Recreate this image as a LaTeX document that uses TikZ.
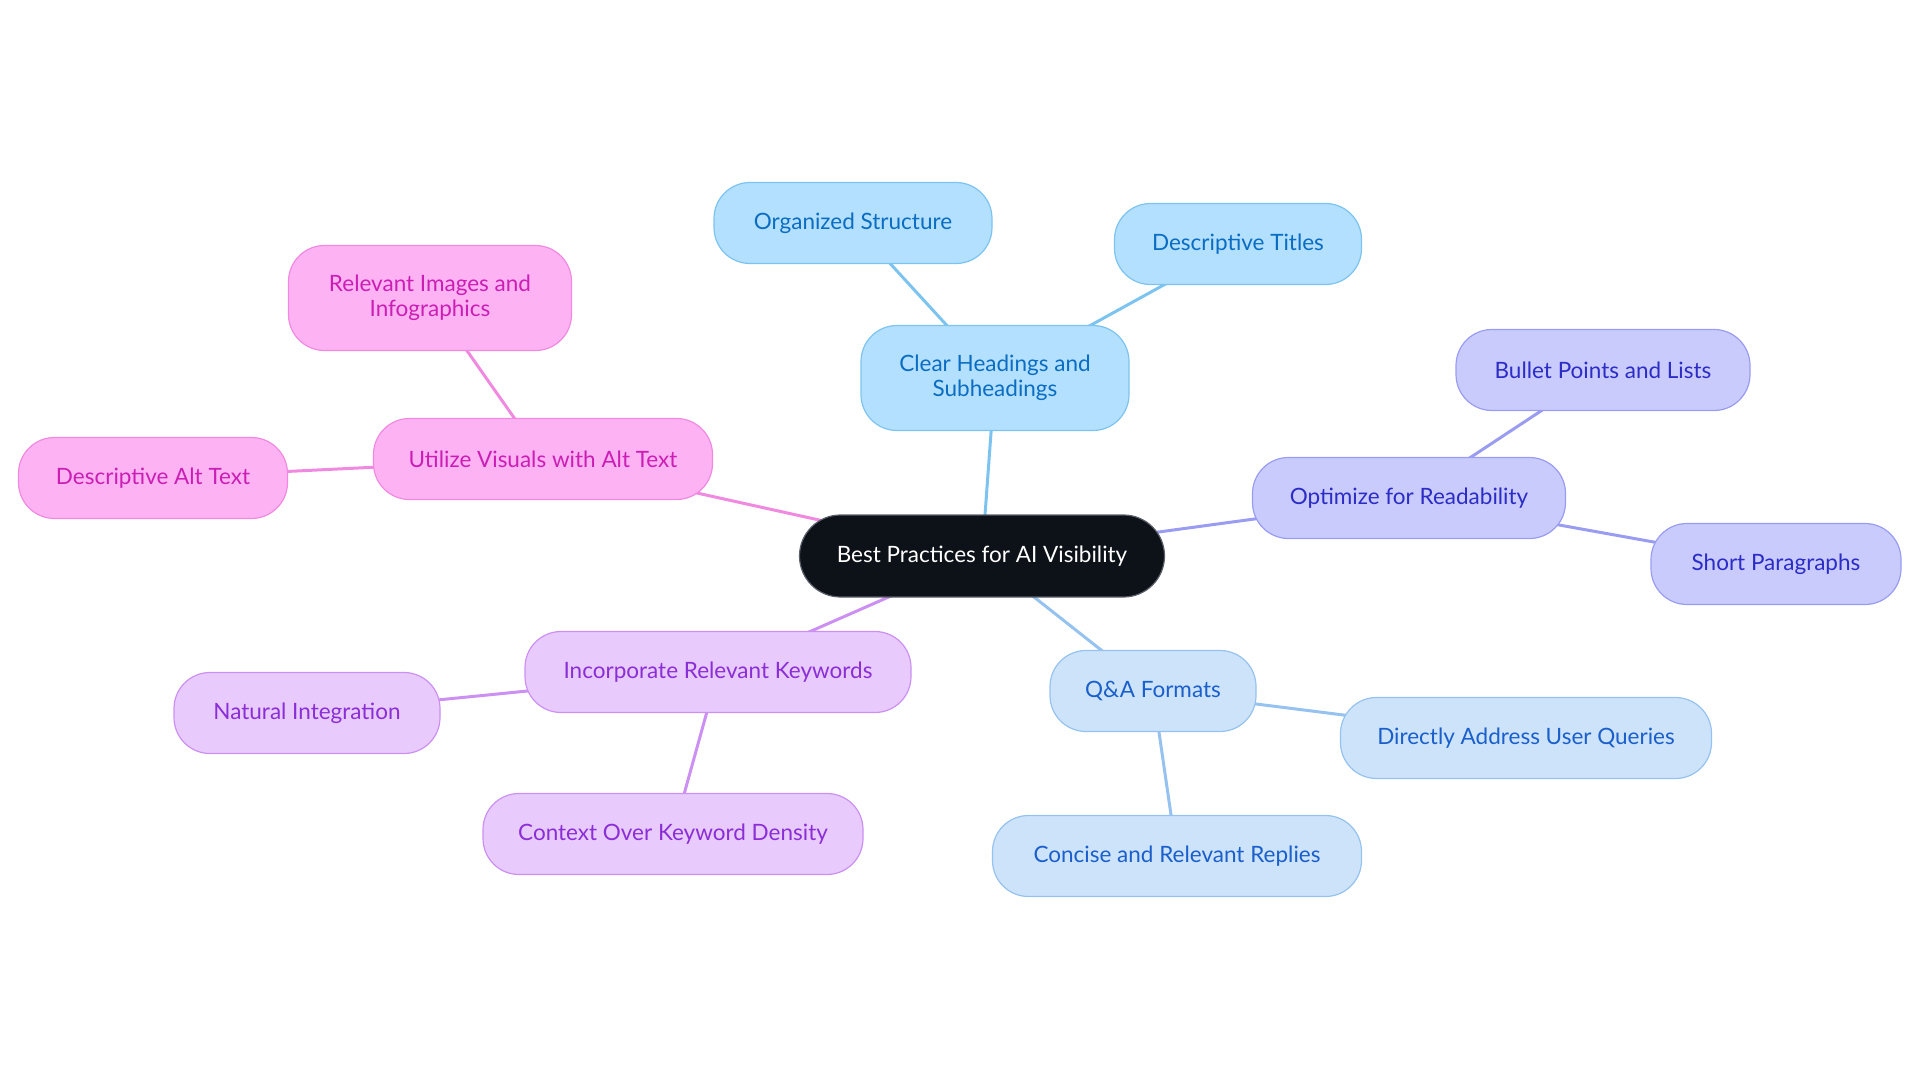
\documentclass[tikz,border=0pt]{standalone}
\usepackage{fontspec}
\setmainfont{Lato}
\usepackage{xcolor}
\usepackage{tikz}
\usetikzlibrary{backgrounds}
\definecolor{hubfill}{RGB}{13, 17, 24}
\definecolor{hubline}{RGB}{90, 95, 105}
\definecolor{bluefill}{RGB}{179, 224, 255}
\definecolor{blueline}{RGB}{125, 195, 240}
\definecolor{bluetext}{RGB}{11, 109, 194}
\definecolor{indigofill}{RGB}{201, 203, 252}
\definecolor{indigoline}{RGB}{154, 156, 242}
\definecolor{indigotext}{RGB}{44, 44, 198}
\definecolor{skyfill}{RGB}{205, 227, 250}
\definecolor{skyline}{RGB}{150, 194, 239}
\definecolor{skytext}{RGB}{26, 95, 203}
\definecolor{lilacfill}{RGB}{232, 202, 252}
\definecolor{lilacline}{RGB}{204, 144, 242}
\definecolor{lilactext}{RGB}{139, 46, 214}
\definecolor{pinkfill}{RGB}{253, 179, 243}
\definecolor{pinkline}{RGB}{240, 138, 224}
\definecolor{pinktext}{RGB}{203, 30, 181}

\begin{document}
\begin{tikzpicture}[x=1pt, y=-1pt,
    box/.style={rounded corners=36pt, line width=1.2pt, inner sep=0pt, align=center,
                minimum height=81pt, font=\fontsize{22.5}{24.5}\selectfont},
    hub/.style={box, fill=hubfill, draw=hubline, text=white, rounded corners=41pt},
    bluebox/.style={box, fill=bluefill, draw=blueline, text=bluetext},
    indigobox/.style={box, fill=indigofill, draw=indigoline, text=indigotext},
    skybox/.style={box, fill=skyfill, draw=skyline, text=skytext},
    lilacbox/.style={box, fill=lilacfill, draw=lilacline, text=lilactext},
    pinkbox/.style={box, fill=pinkfill, draw=pinkline, text=pinktext},
    link/.style={line width=3pt}]
    \useasboundingbox (0,0) rectangle (1920,1083);

    % Centre
    \node[hub, minimum width=365pt, minimum height=82pt] (hub) at (982,556) {Best Practices for AI Visibility};

    % Headings branch
    \node[bluebox, minimum width=268pt, minimum height=105pt] (headings) at (995,378) {Clear Headings and\\Subheadings};
    \node[bluebox, minimum width=278pt] (structure) at (853,223) {Organized Structure};
    \node[bluebox, minimum width=247pt] (titles) at (1238,244) {Descriptive Titles};

    % Readability branch
    \node[indigobox, minimum width=313pt] (readability) at (1409,498) {Optimize for Readability};
    \node[indigobox, minimum width=294pt] (bullets) at (1603,370) {Bullet Points and Lists};
    \node[indigobox, minimum width=250pt] (paragraphs) at (1776,564) {Short Paragraphs};

    % Q&A branch
    \node[skybox, minimum width=206pt] (qa) at (1153,691) {Q\&A Formats};
    \node[skybox, minimum width=371pt] (queries) at (1526,738) {Directly Address User Queries};
    \node[skybox, minimum width=369pt] (replies) at (1177,856) {Concise and Relevant Replies};

    % Keywords branch
    \node[lilacbox, minimum width=386pt] (keywords) at (718,672) {Incorporate Relevant Keywords};
    \node[lilacbox, minimum width=266pt] (natural) at (307,713) {Natural Integration};
    \node[lilacbox, minimum width=380pt] (density) at (673,834) {Context Over Keyword Density};

    % Visuals branch
    \node[pinkbox, minimum width=339pt] (visuals) at (543,459) {Utilize Visuals with Alt Text};
    \node[pinkbox, minimum width=283pt, minimum height=105pt] (images) at (430,298) {Relevant Images and\\Infographics};
    \node[pinkbox, minimum width=269pt] (alttext) at (153,478) {Descriptive Alt Text};

    % Connectors behind the boxes
    \begin{scope}[on background layer]
        \draw[link, draw=blueline] (hub.center) -- (headings.center);
        \draw[link, draw=blueline] (headings.center) -- (structure.center);
        \draw[link, draw=blueline] (headings.center) -- (titles.center);
        \draw[link, draw=indigoline] (hub.center) -- (readability.center);
        \draw[link, draw=indigoline] (readability.center) -- (bullets.center);
        \draw[link, draw=indigoline] (readability.center) -- (paragraphs.center);
        \draw[link, draw=skyline] (hub.center) -- (qa.center);
        \draw[link, draw=skyline] (qa.center) -- (queries.center);
        \draw[link, draw=skyline] (qa.center) -- (replies.center);
        \draw[link, draw=lilacline] (hub.center) -- (keywords.center);
        \draw[link, draw=lilacline] (keywords.center) -- (natural.center);
        \draw[link, draw=lilacline] (keywords.center) -- (density.center);
        \draw[link, draw=pinkline] (hub.center) -- (visuals.center);
        \draw[link, draw=pinkline] (visuals.center) -- (images.center);
        \draw[link, draw=pinkline] (visuals.center) -- (alttext.center);
    \end{scope}
\end{tikzpicture}
\end{document}
